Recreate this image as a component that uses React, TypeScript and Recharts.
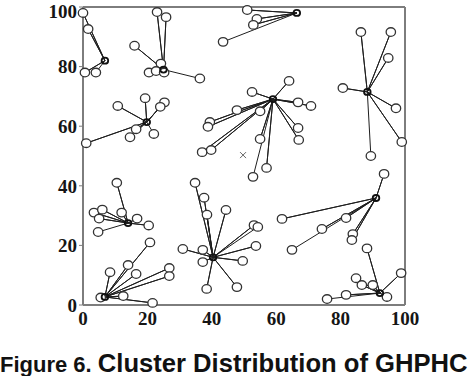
import { Scatter, ScatterChart, XAxis, YAxis } from "recharts";

const ticks = [0, 20, 40, 60, 80, 100];

// cluster heads, one per cluster (x, y)
const heads: [number, number][] = [
  [6.8, 82],
  [25, 79],
  [66.4, 98],
  [19.8, 61.4],
  [59, 69.1],
  [88.3, 71.5],
  [14, 27.5],
  [6.8, 2.7],
  [40.4, 16],
  [91, 35.9],
  [92.2, 4],
];

const membersA: [number, number][] = [[0, 98], [1.6, 92.6], [0.6, 78], [4, 78]];
const membersB: [number, number][] = [[23, 98.3], [25.8, 96.6], [16, 87], [24.2, 81], [20.5, 78], [22.7, 78.5], [25.2, 78], [36.3, 76]];
const membersC: [number, number][] = [[51, 99], [54, 96], [52.9, 94], [43.5, 88.3]];
const membersD: [number, number][] = [[1, 54.3], [10.8, 66.8], [19.3, 69.4], [25.3, 68], [24, 66.5], [16.5, 59], [14.6, 56.3], [22, 57.4]];
const membersE: [number, number][] = [
  [64, 75.2], [52.5, 71.5], [66.8, 68], [70.8, 66.8], [47.8, 65.4], [55, 65], [39.4, 61.4], [38.8, 59.8],
  [66.8, 59.4], [67, 55.4], [55, 55.7], [37, 51.3], [39.8, 52], [57, 46], [52.8, 43],
];
const membersF: [number, number][] = [[86.3, 91.6], [95.6, 91.6], [94.8, 82.9], [80.7, 72.8], [97.2, 66], [99, 54.7], [89.4, 50]];
const membersG: [number, number][] = [[10.5, 41], [3.4, 31], [6, 32], [5, 29], [12, 31], [16.8, 29], [20.4, 26.7], [4.7, 24.5]];
const membersH: [number, number][] = [[20.8, 21], [14, 13.4], [8.4, 11], [16.5, 10.4], [26.8, 12.4], [26.8, 9.7], [12.5, 3], [21.6, 0.7], [5.5, 2.5]];
const membersI: [number, number][] = [
  [34.8, 41], [37.6, 36], [38.5, 30.3], [44.4, 31.9], [31, 18.8], [37.2, 18.5], [37.2, 14.4], [38.4, 5.4],
  [47.8, 6], [49.6, 14.8], [53.7, 19.8], [53.1, 26.8], [54.3, 26.2],
];
const membersJ: [number, number][] = [[93.5, 44], [61.8, 28.9], [74.2, 25.5], [81.7, 29.2], [83.8, 23.8], [83.5, 21.8], [64.9, 18.5]];
const membersK: [number, number][] = [[88.2, 19], [98.8, 10.7], [84.8, 9], [86.6, 6.7], [90, 6.7], [94.4, 2.7], [81.7, 3.4], [75.8, 2]];

const members = [membersA, membersB, membersC, membersD, membersE, membersF, membersG, membersH, membersI, membersJ, membersK];

const sinkCenter: [number, number][] = [[49.7, 50.3]];

const AXIS = "#7d7d7d";
const tickFont = { fontFamily: "Liberation Serif", fontWeight: 700, fontSize: 19, fill: "#151515" };

const toPts = (arr: [number, number][]) => arr.map(([x, y]) => ({ x, y }));

// star links: head -> member -> head -> member ...
const linkData = members.map((ms, i) =>
  ms.flatMap((m) => [
    { x: heads[i][0], y: heads[i][1] },
    { x: m[0], y: m[1] },
  ])
);

const allMembers = toPts(members.flat());

const OpenCircle = (p: any) => (
  <ellipse cx={p.cx} cy={p.cy} rx={4.7} ry={4.3} fill="#fff" stroke="#333" strokeWidth={1.3} />
);
const HeadMark = (p: any) => (
  <ellipse cx={p.cx} cy={p.cy} rx={3.3} ry={3} fill="none" stroke="#111" strokeWidth={1.8} />
);
const Cross = (p: any) => (
  <g stroke="#666" strokeWidth={1}>
    <line x1={p.cx - 3} y1={p.cy - 3} x2={p.cx + 3} y2={p.cy + 3} />
    <line x1={p.cx - 3} y1={p.cy + 3} x2={p.cx + 3} y2={p.cy - 3} />
  </g>
);
const Nothing = () => <g />;

export default function App() {
  return (
    <div style={{ position: "absolute", left: 0, top: 0, width: 474, height: 376, background: "#fff" }}>
      <ScatterChart width={474} height={376} margin={{ top: 7, right: 69, left: 0, bottom: 0 }}>
        <XAxis
          dataKey="x"
          type="number"
          domain={[0, 100]}
          ticks={ticks}
          height={71}
          tickLine={false}
          tickSize={4}
          tickMargin={3}
          tick={tickFont}
          axisLine={{ stroke: AXIS, strokeWidth: 2 }}
        />
        <XAxis xAxisId="bin" dataKey="x" type="number" orientation="bottom" mirror domain={[0, 100]} ticks={ticks}
          tickSize={4} tickFormatter={() => ""} axisLine={false} tickLine={{ stroke: AXIS }} />
        <XAxis xAxisId="top" dataKey="x" type="number" orientation="top" mirror domain={[0, 100]} ticks={ticks}
          tickSize={4} tickFormatter={() => ""} axisLine={{ stroke: AXIS, strokeWidth: 2 }} tickLine={{ stroke: AXIS }} />
        <YAxis
          dataKey="y"
          type="number"
          domain={[0, 100]}
          ticks={ticks}
          width={83}
          tickSize={4}
          tickMargin={2}
          tick={tickFont}
          tickLine={{ stroke: AXIS }}
          axisLine={{ stroke: AXIS, strokeWidth: 2 }}
        />
        <YAxis yAxisId="right" dataKey="y" type="number" orientation="right" mirror domain={[0, 100]} ticks={ticks}
          tickSize={4} tickFormatter={() => ""} axisLine={{ stroke: AXIS, strokeWidth: 2 }} tickLine={{ stroke: AXIS }} />
        {linkData.map((d, i) => (
          <Scatter
            key={"l" + i}
            data={d}
            line={{ stroke: "#1e1e1e", strokeWidth: 1 }}
            lineJointType="linear"
            shape={Nothing}
            isAnimationActive={false}
          />
        ))}
        <Scatter data={allMembers} shape={OpenCircle} isAnimationActive={false} />
        <Scatter data={toPts(heads)} shape={HeadMark} isAnimationActive={false} />
        <Scatter data={toPts(sinkCenter)} shape={Cross} isAnimationActive={false} />
      </ScatterChart>
      <svg width={474} height={40} style={{ position: "absolute", left: 0, top: 340 }}>
        <text x={0} y={32} fontFamily="Liberation Sans" fontWeight={700} fill="#111">
          <tspan fontSize={22}>Figure 6. </tspan>
          <tspan fontSize={25.6}>Cluster Distribution of GHPHC</tspan>
        </text>
      </svg>
    </div>
  );
}
